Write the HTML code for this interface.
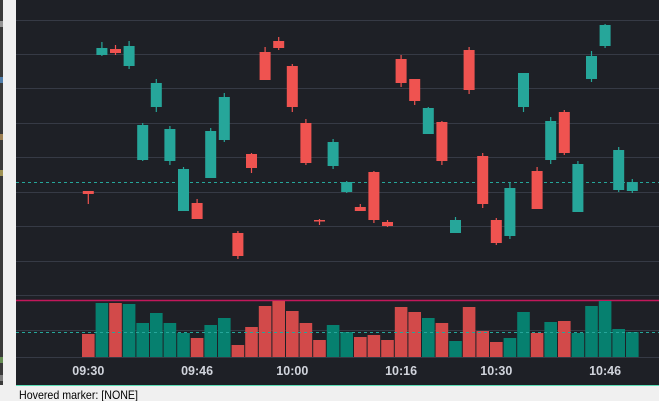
<!DOCTYPE html>
<html><head><meta charset="utf-8"><style>
html,body{margin:0;padding:0;width:659px;height:401px;overflow:hidden;background:#f0f0f0;font-family:"Liberation Sans",sans-serif}
#wrap{position:relative;width:659px;height:401px}
svg{position:absolute;left:0;top:0}
</style></head><body><div id="wrap">
<svg id="c" width="659" height="401"></svg>
</div>
<script>
const times=["09:30","09:32","09:34","09:36","09:38","09:40","09:42","09:44","09:46","09:48","09:50","09:52","09:54","09:56","09:58","10:00","10:02","10:04","10:06","10:08","10:10","10:12","10:14","10:16","10:18","10:20","10:22","10:24","10:26","10:28","10:30","10:32","10:34","10:36","10:38","10:40","10:42","10:44","10:46","10:48","10:50"];
const openP=[20.9,34.5,35.1,33.4,24.0,29.3,23.9,18.9,19.7,22.2,26.0,16.7,24.6,34.8,35.9,33.4,27.7,18.0,23.4,20.8,19.3,22.8,17.8,34.1,32.1,26.6,27.8,16.7,35.0,24.4,18.0,16.4,29.3,22.9,24.0,28.8,18.8,32.1,35.4,21.0,20.9];
const highP=[20.9,35.8,35.5,35.9,27.7,32.1,27.4,23.3,20.1,27.2,30.7,16.9,24.7,35.3,36.3,33.6,28.1,18.1,26.1,21.9,19.6,22.9,18.0,34.5,32.1,29.3,27.9,18.3,35.3,24.7,18.2,21.8,32.7,23.3,28.3,29.0,23.9,34.9,37.6,25.3,22.1];
const lowP=[19.6,34.4,34.5,33.1,23.9,28.8,23.5,18.9,18.1,22.2,25.8,14.1,22.7,32.0,35.0,28.8,23.5,17.5,23.1,20.7,18.9,17.7,17.3,31.3,29.5,26.6,23.5,16.7,30.6,19.2,15.5,16.1,28.8,19.1,23.6,24.5,18.8,31.8,35.2,20.8,20.7];
const closeP=[20.6,35.2,34.7,35.4,27.5,31.7,27.1,23.1,18.1,26.9,30.3,14.4,23.2,32.0,35.2,29.3,23.7,17.95,25.8,21.8,18.9,18.0,17.4,31.7,29.9,29.2,23.9,18.0,31.0,19.6,15.7,21.2,32.7,19.1,27.9,24.7,23.6,34.4,37.5,25.0,21.8];
const volumes=[23,54,54,53,34,44,34,24,19,32,39,12,30,51,56,46,34,17,32,25,20,22,17,50,45,39,34,16,50,26,15,19,45,24,35,36,24,51,56,28,25];
const tickLabels=["09:30","09:46","10:00","10:16","10:30","10:46"];
const lastPrice=21.8, avgVolume=25;

const svg=document.getElementById('c');
const NS='http://www.w3.org/2000/svg';
function mk(t,a,p){const e=document.createElementNS(NS,t);for(const k in a)e.setAttribute(k,a[k]);(p||svg).appendChild(e);return e;}
const xS=i=>88.3+i*13.6;
const yP=p=>400-p*10;
const yV=v=>357-v;

const bg=mk('rect',{x:16,y:0,width:643,height:385,fill:'#1e2026'});


const ls=mk('rect',{x:0,y:0,width:3,height:385,fill:'#3a3a3a'});


[[24,'#bbb'],[80,'#5a9ad8'],[137,'#c9a060'],[173,'#c9b860'],[360,'#7ab060'],[378,'#999']].forEach(([y,c])=>{const m=mk('rect',{x:0,y:y-3,width:3,height:6,fill:c,opacity:0.7});

});

[20,54,88,123,157,192,226,261,295,330,357].forEach(y=>{const g=mk('line',{x1:16,x2:659,y1:y+0.5,y2:y+0.5,stroke:'#363a45','stroke-width':1});

});

const sep=mk('line',{x1:16,x2:659,y1:300.5,y2:300.5,stroke:'#c2185b','stroke-width':1.5});



const pl=mk('line',{x1:16,x2:659,y1:yP(lastPrice)+0.5,y2:yP(lastPrice)+0.5,stroke:'#26a69a','stroke-width':1,'stroke-dasharray':'3 3'});



volumes.forEach((v,i)=>{const up=closeP[i]>=openP[i];
const r=mk('rect',{x:xS(i)-6.3,y:yV(v),width:12.6,height:v,fill:up?'#06806f':'#d24a4a'});

});

const vl=mk('line',{x1:16,x2:659,y1:yV(avgVolume)+0.5,y2:yV(avgVolume)+0.5,stroke:'#26a69a','stroke-width':1,'stroke-dasharray':'3 3'});



openP.forEach((o,i)=>{const c=closeP[i],up=c>=o,col=up?'#26a69a':'#ef5350',x=xS(i);
const g=mk('g',{});


mk('line',{x1:x,x2:x,y1:yP(highP[i]),y2:yP(lowP[i]),stroke:col,'stroke-width':1.2},g);
const t=Math.min(yP(o),yP(c)),h=Math.max(1.5,Math.abs(yP(o)-yP(c)));
mk('rect',{x:x-5.5,y:t,width:11,height:h,fill:col},g);});

tickLabels.forEach(l=>{const i=times.indexOf(l);
const t=mk('text',{x:xS(i),y:375,'text-anchor':'middle','font-size':12.5,'font-weight':'bold',fill:'#d1d4dc','font-family':'Liberation Sans, sans-serif'});
t.textContent=l;

});

const ml=mk('line',{x1:16,x2:659,y1:385.5,y2:385.5,stroke:'#5fe0b8','stroke-width':1});


const st=mk('text',{x:19,y:399,'font-size':12,fill:'#000','font-family':'Liberation Sans, sans-serif',textLength:119,lengthAdjust:'spacingAndGlyphs'});
st.textContent='Hovered marker: [NONE]';


</script></body></html>
